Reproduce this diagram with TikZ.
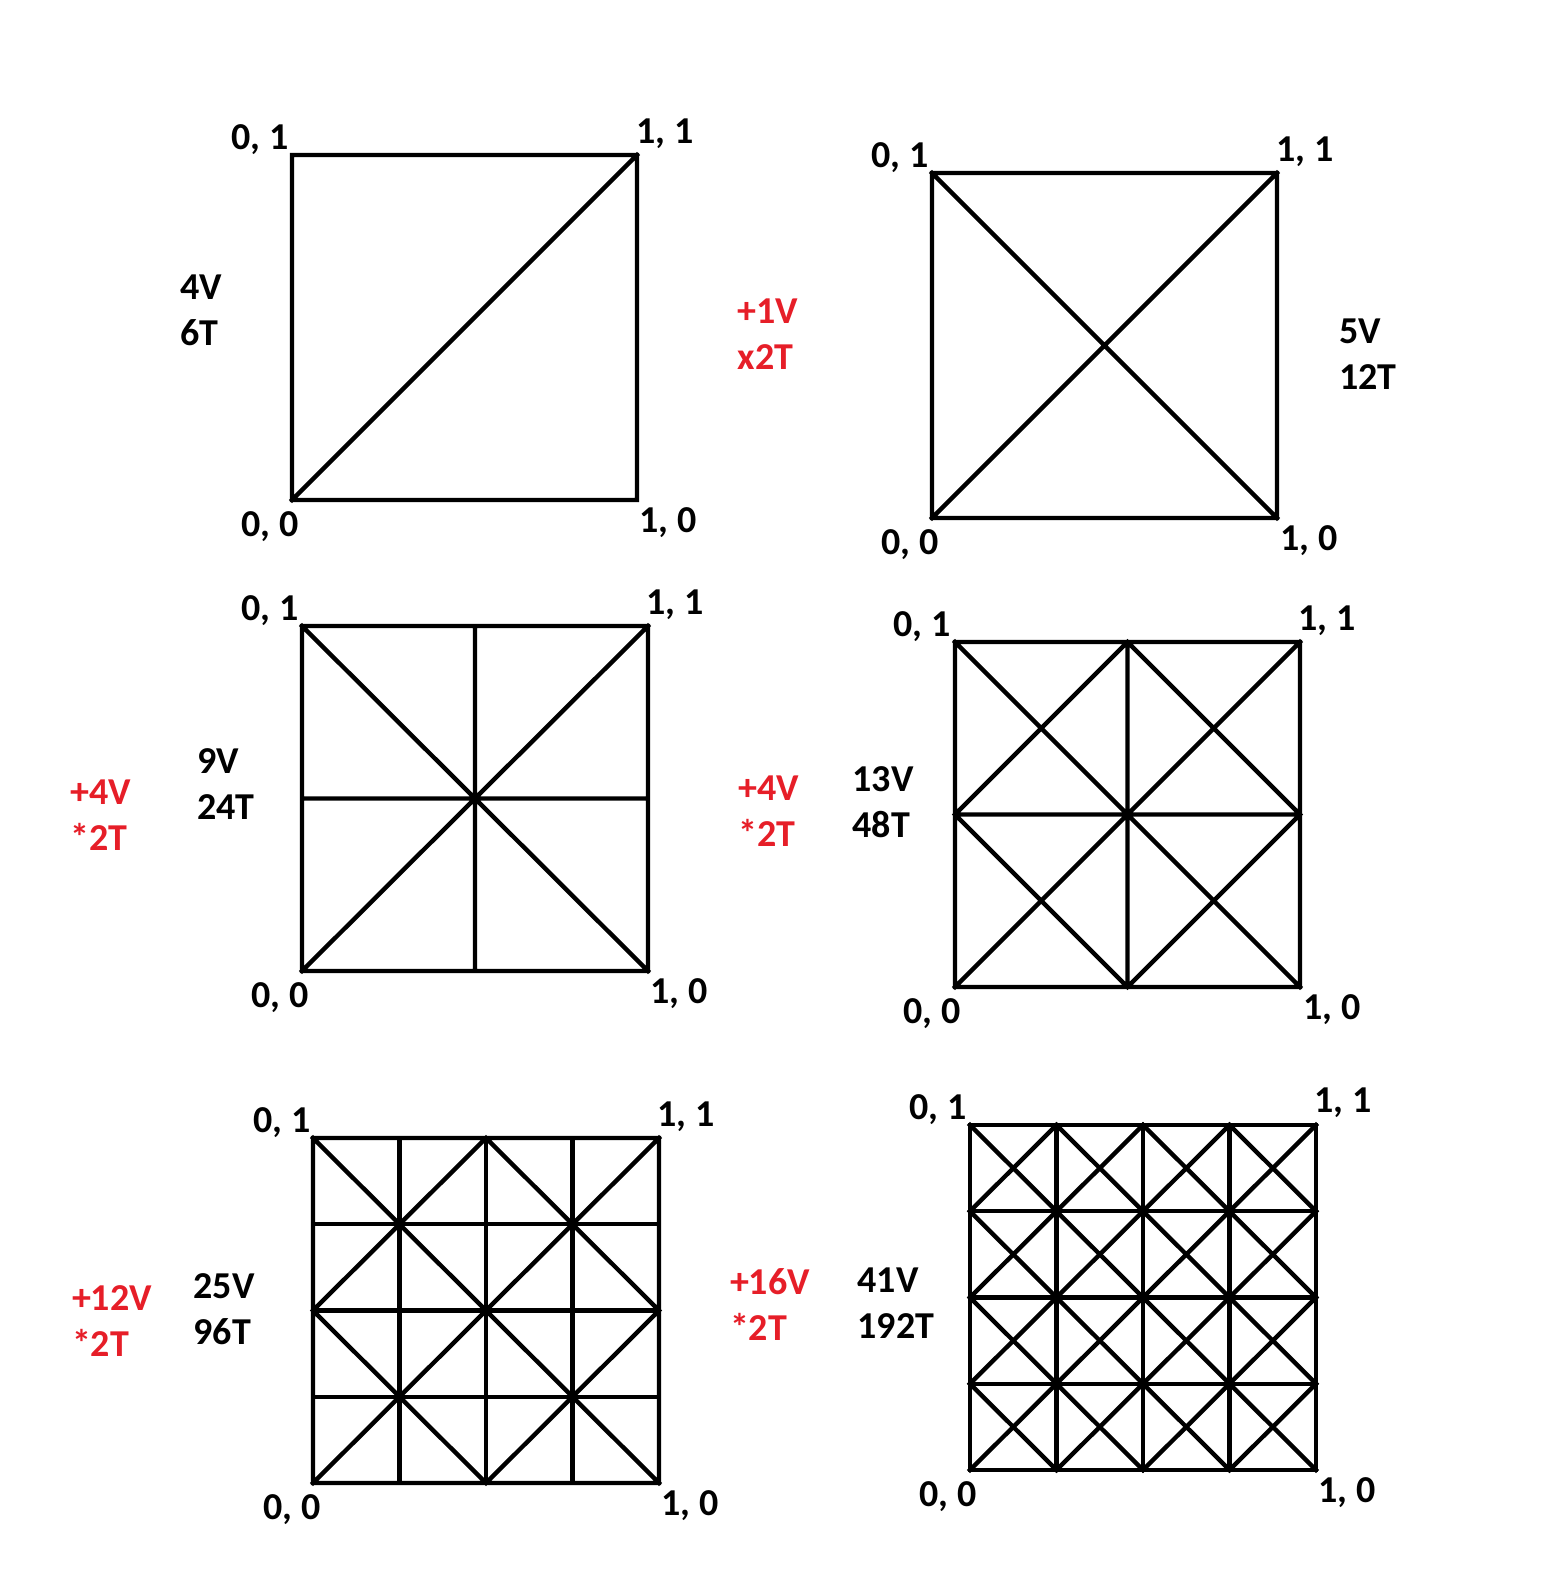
\documentclass[tikz,border=0pt]{standalone}
\usepackage{fontspec}
\setmainfont{Carlito}
\usetikzlibrary{positioning}
\definecolor{labelred}{RGB}{230,30,40}
\begin{document}
\begin{tikzpicture}[x=0.5pt,y=-0.5pt]
    \tikzstyle{every node}=[inner sep=0,font=\fontsize{19}{23}\selectfont\bfseries]
    \tikzstyle{mesh}=[line width=2.2pt,line cap=rect]
    \tikzstyle{count}=[align=left]
    \tikzstyle{growth}=[count,text=labelred]
    \useasboundingbox (0,0) rectangle (1540,1582);
    {
        % square 1
        \draw[mesh] (292,155) rectangle (637,500) (292,500) -- (637,155);
        % square 2
        \draw[mesh] (932,173) rectangle (1277,518) (932,518) -- (1277,173) (932,173) -- (1277,518);
        % square 3
        \draw[mesh] (302,626) rectangle (648,971) (302,971) -- (648,626) (302,626) -- (648,971)
            (475,626) -- (475,971) (302,798.5) -- (648,798.5);
        % square 4
        \draw[mesh] (955,642) rectangle (1300,987) (955,987) -- (1300,642) (955,642) -- (1300,987)
            (1127.5,642) -- (1127.5,987) (955,814.5) -- (1300,814.5)
            (955,814.5) -- (1127.5,642) -- (1300,814.5) -- (1127.5,987) -- cycle;
        % square 5
        \draw[mesh] (313,1138) rectangle (659,1483) (313,1483) -- (659,1138) (313,1138) -- (659,1483)
            (313,1310.5) -- (486,1138) -- (659,1310.5) -- (486,1483) -- cycle;
        \foreach \i in {1,2,3}{
            \draw[mesh] (313+86.5*\i,1138) -- (313+86.5*\i,1483) (313,1138+86.25*\i) -- (659,1138+86.25*\i);
        }
        % square 6
        \draw[mesh] (970,1125) rectangle (1316,1470);
        \foreach \i in {1,2,3}{
            \draw[mesh] (970+86.5*\i,1125) -- (970+86.5*\i,1470) (970,1125+86.25*\i) -- (1316,1125+86.25*\i);
        }
        \foreach \i in {0,1,2,3}{
            \foreach \j in {0,1,2,3}{
                \draw[mesh] (970+86.5*\i,1125+86.25*\j) -- (1056.5+86.5*\i,1211.25+86.25*\j)
                    (970+86.5*\i,1211.25+86.25*\j) -- (1056.5+86.5*\i,1125+86.25*\j);
            }
        }

        % corner labels
        \foreach \n/\ax/\ay/\bx/\by/\cx/\cy/\dx/\dy in {
            a/260/140/665/134/270/527/668/523,
            b/900/158/1305/152/910/545/1309/541,
            c/270/611/675/605/280/998/679/994,
            d/922/627/1327/621/932/1014/1332/1010,
            e/282/1123/686/1117/292/1510/690/1506,
            f/938/1110/1343/1103/948/1497/1347/1493}{
            \node (\n tl) at (\ax,\ay) {0, 1};
            \node (\n tr) at (\bx,\by) {1, 1};
            \node (\n bl) at (\cx,\cy) {0, 0};
            \node (\n br) at (\dx,\dy) {1, 0};
        }

        % counts
        \node[count] (count1) at (201,310) {4V\\6T};
        \node[count] (count2) at (1368,354) {5V\\12T};
        \node[count] (count3) at (226,784) {9V\\24T};
        \node[count] (count4) at (883,802) {13V\\48T};
        \node[count] (count5) at (224,1309) {25V\\96T};
        \node[count] (count6) at (896,1303) {41V\\192T};

        % growth
        \node[growth] (grow1) at (768,334) {+1V\\x2T};
        \node[growth] (grow2) at (101,815) {+4V\\*2T};
        \node[growth] (grow3) at (769,811) {+4V\\*2T};
        \node[growth] (grow4) at (112,1321) {+12V\\*2T};
        \node[growth] (grow5) at (770,1305) {+16V\\*2T};
    }
\end{tikzpicture}
\end{document}
